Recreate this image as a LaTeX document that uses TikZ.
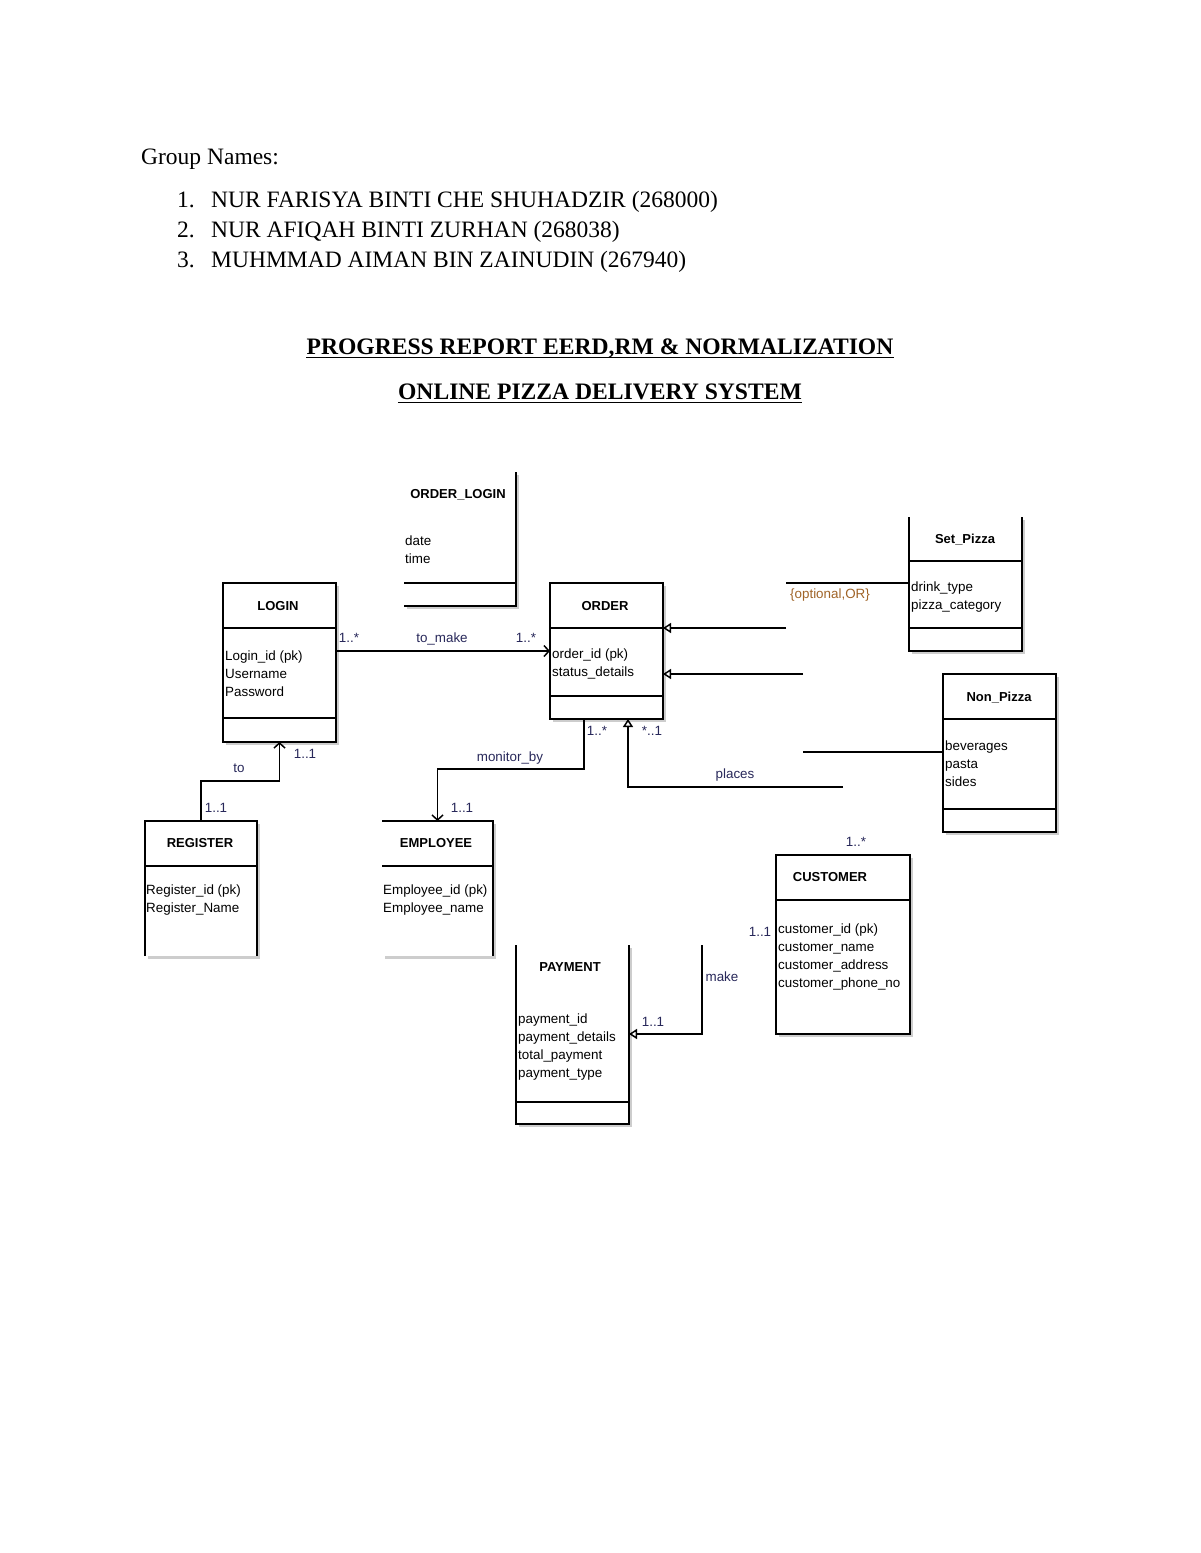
\documentclass[tikz,border=0pt]{standalone}
\usepackage{fontspec}
\setmainfont{Liberation Serif}
\newfontfamily\diagfont{Liberation Sans}
\usetikzlibrary{arrows.meta,calc,shadows}
\definecolor{lbl}{RGB}{40,40,90}
\definecolor{orlbl}{RGB}{160,100,40}
\definecolor{shd}{RGB}{205,205,205}
\newcommand\hdiv[2]{\draw[ln] ($(#1.north west)+(0,#2)$) -- ($(#1.north east)+(0,#2)$);}
\newcommand\attrlist[4]{\foreach \t [count=\i from 0] in {#4} \node[attr] (#1-a\i) at (#2,{#3+18*\i}) {\t};}
\begin{document}
\begin{tikzpicture}[x=1pt,y=-1pt,
 ln/.style={line width=1.5pt, black},
 area/.style={anchor=north west, inner sep=0pt, outer sep=0pt, fill=white,
   drop shadow={shadow xshift=3pt, shadow yshift=-3pt, fill=shd, opacity=1}},
 hdr/.style={font=\fontsize{23.5}{27}\selectfont, anchor=west, inner sep=0pt, text height=15pt, text depth=0pt},
 ttl/.style={font=\bfseries\fontsize{23.6}{27}\selectfont, anchor=center, inner sep=0pt, text height=15pt, text depth=0pt},
 cname/.style={font=\diagfont\bfseries\fontsize{13}{15}\selectfont, inner sep=0pt, text height=9.3pt, text depth=0pt},
 attr/.style={font=\diagfont\fontsize{13.4}{15}\selectfont, anchor=west, inner sep=0pt, text height=9.3pt, text depth=0pt},
 lab/.style={font=\diagfont\fontsize{13.4}{15}\selectfont, text=lbl, inner sep=0pt, text height=9.3pt, text depth=0pt},
 barb/.style={ln, -{Straight Barb[length=5pt,width=11pt]}},
 gen/.style={ln, -{Triangle[open,length=8pt,width=10pt,fill=white]}},
]
\useasboundingbox[fill=white] (0,0) rectangle (1200,1553);

% ---------- header ----------
\node[hdr] (grp) at (141,157) {Group Names:};
\node[hdr] (n1) at (177,200) {1.};
\node[hdr] (t1) at (211,200) {NUR FARISYA BINTI CHE SHUHADZIR (268000)};
\node[hdr] (n2) at (177,230) {2.};
\node[hdr] (t2) at (211,230) {NUR AFIQAH BINTI ZURHAN (268038)};
\node[hdr] (n3) at (177,260) {3.};
\node[hdr] (t3) at (211,260) {MUHMMAD AIMAN BIN ZAINUDIN (267940)};
\node[ttl] (title1) at (600,347) {PROGRESS REPORT EERD,RM \& NORMALIZATION};
\draw[line width=1.2pt] ($(title1.south west)+(0,3)$) -- ($(title1.south east)+(0,3)$);
\node[ttl] (title2) at (600,392) {ONLINE PIZZA DELIVERY SYSTEM};
\draw[line width=1.2pt] ($(title2.south west)+(0,3)$) -- ($(title2.south east)+(0,3)$);

% ---------- ORDER_LOGIN ----------
\node[area, minimum width=112pt, minimum height=134pt] (orderlogin) at (404,472) {};
\draw[ln] (orderlogin.north east) -- (orderlogin.south east) -- (orderlogin.south west);
\hdiv{orderlogin}{111}
\node[cname] (orderlogin-t) at (458,494) {ORDER\_LOGIN};
\attrlist{orderlogin}{405}{541}{date,time}

% ---------- LOGIN ----------
\node[area, minimum width=113pt, minimum height=159pt] (login) at (223,583) {};
\draw[ln] (login.north west) rectangle (login.south east);
\hdiv{login}{45}
\hdiv{login}{135}
\node[cname] (login-t) at (278,606) {LOGIN};
\attrlist{login}{225}{656}{Login\_id (pk),Username,Password}

% ---------- ORDER ----------
\node[area, minimum width=113pt, minimum height=136pt] (order) at (550,583) {};
\draw[ln] (order.north west) rectangle (order.south east);
\hdiv{order}{45}
\hdiv{order}{113}
\node[cname] (order-t) at (605,606) {ORDER};
\attrlist{order}{552}{654}{order\_id (pk),status\_details}

% ---------- Set_Pizza ----------
\node[area, minimum width=113pt, minimum height=134pt] (setpizza) at (909,517) {};
\draw[ln] (setpizza.north west) -- (setpizza.south west) -- (setpizza.south east) -- (setpizza.north east);
\hdiv{setpizza}{44}
\hdiv{setpizza}{111}
\node[cname] (setpizza-t) at (965,539) {Set\_Pizza};
\attrlist{setpizza}{911}{587}{drink\_type,pizza\_category}

% ---------- Non_Pizza ----------
\node[area, minimum width=113pt, minimum height=158pt] (nonpizza) at (943,674) {};
\draw[ln] (nonpizza.north west) rectangle (nonpizza.south east);
\hdiv{nonpizza}{45}
\hdiv{nonpizza}{135}
\node[cname] (nonpizza-t) at (999,697) {Non\_Pizza};
\attrlist{nonpizza}{945}{746}{beverages,pasta,sides}

% ---------- REGISTER ----------
\node[area, minimum width=112pt, minimum height=135pt] (register) at (145,821) {};
\draw[ln] (register.south west) -- (register.north west) -- (register.north east) -- (register.south east);
\hdiv{register}{45}
\node[cname] (register-t) at (200,843) {REGISTER};
\attrlist{register}{146}{890}{Register\_id (pk),Register\_Name}

% ---------- EMPLOYEE ----------
\node[area, minimum width=111pt, minimum height=135pt] (employee) at (382,821) {};
\draw[ln] (employee.north west) -- (employee.north east) -- (employee.south east);
\hdiv{employee}{45}
\node[cname] (employee-t) at (436,843) {EMPLOYEE};
\attrlist{employee}{383}{890}{Employee\_id (pk),Employee\_name}

% ---------- PAYMENT ----------
\node[area, minimum width=113pt, minimum height=179pt] (payment) at (516,945) {};
\draw[ln] (payment.north west) -- (payment.south west) -- (payment.south east) -- (payment.north east);
\hdiv{payment}{157}
\node[cname] (payment-t) at (570,967) {PAYMENT};
\attrlist{payment}{518}{1019}{payment\_id,payment\_details,total\_payment,payment\_type}

% ---------- CUSTOMER ----------
\node[area, minimum width=134pt, minimum height=179pt] (customer) at (776,855) {};
\draw[ln] (customer.north west) rectangle (customer.south east);
\hdiv{customer}{45}
\node[cname] (customer-t) at (830,877) {CUSTOMER};
\attrlist{customer}{778}{929}{customer\_id (pk),customer\_name,customer\_address,customer\_phone\_no}

% ---------- connectors ----------
\draw[barb] (login.east |- order.west) -- (order.west);
\draw[barb] (register.north) -- ++(0,-40) -| (login.south);
\draw[barb] ($(order.south west)+(34,0)$) -- ++(0,50) -| (employee.north);
\coordinate (placesend) at (843,787);
\draw[gen] (placesend) -| ($(order.south west)+(78,0)$);
\coordinate (g1) at (786,628);
\draw[gen] (g1) -- (order.east |- g1);
\coordinate (g2) at (803,674);
\draw[gen] (g2) -- (order.east |- g2);
\coordinate (s1) at (786,583);
\draw[ln] (s1) -- (setpizza.west |- s1);
\coordinate (np1) at (803,752);
\draw[ln] (np1) -- (nonpizza.west |- np1);
\coordinate (m1) at (702,945);
\draw[gen] (m1) |- (payment.east |- customer.south);

% ---------- labels ----------
\node[lab] (l1) at (349,638) {1..*};
\node[lab] (l2) at (442,638) {to\_make};
\node[lab] (l3) at (526,638) {1..*};
\node[lab] (l4) at (239,768) {to};
\node[lab] (l5) at (305,754) {1..1};
\node[lab] (l6) at (216,808) {1..1};
\node[lab] (l7) at (597,731) {1..*};
\node[lab] (l8) at (510,757) {monitor\_by};
\node[lab] (l9) at (462,808) {1..1};
\node[lab] (l10) at (652,731) {*..1};
\node[lab] (l11) at (735,774) {places};
\node[lab, text=orlbl] (l12) at (830,594) {\{optional,OR\}};
\node[lab] (l13) at (722,977) {make};
\node[lab] (l14) at (653,1022) {1..1};
\node[lab] (l15) at (760,932) {1..1};
\node[lab] (l16) at (856,842) {1..*};
\end{tikzpicture}
\end{document}
